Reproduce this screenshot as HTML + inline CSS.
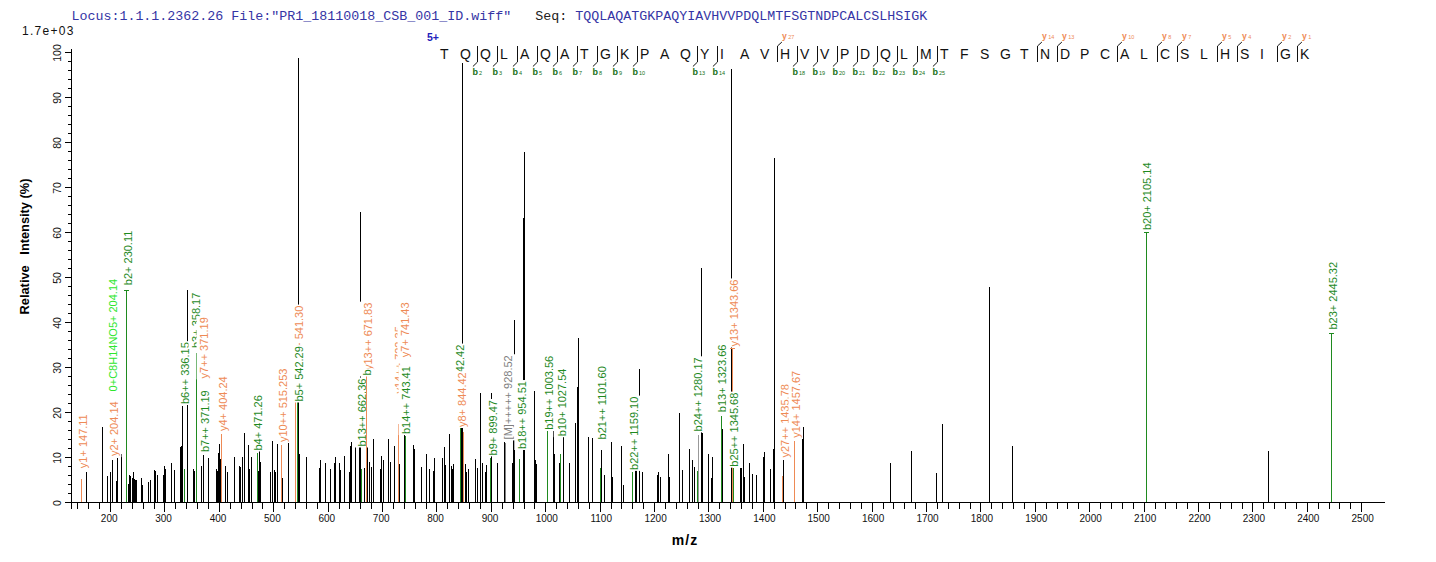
<!DOCTYPE html><html><head><meta charset="utf-8"><style>html,body{margin:0;padding:0;background:#fff;width:1436px;height:562px;overflow:hidden}svg{display:block}text{font-family:"Liberation Sans",sans-serif}</style></head><body>
<svg width="1436" height="562" viewBox="0 0 1436 562">
<text x="71.4" y="19.5" style="font-family:'Liberation Mono',monospace;font-size:13.333px;white-space:pre" fill="#3535a5" xml:space="preserve">Locus:1.1.1.2362.26 File:"PR1_18110018_CSB_001_ID.wiff"   <tspan fill="#222">Seq:</tspan> TQQLAQATGKPAQYIAVHVVPDQLMTFSGTNDPCALCSLHSIGK</text>
<text x="22" y="35" style="font-size:12px;letter-spacing:1.3px" fill="#111">1.7e+03</text>
<path d="M86.5 502V472M102.5 502V427M107.5 502V476M110.5 502V472M112.5 502V460M116.5 502V481M117.5 502V458M121.5 502V454M128.5 502V484M129.5 502V475M130.5 502V476M132.5 502V478M133.5 502V472M134.5 502V479M135.5 502V480M136.5 502V480M141.5 502V478M142.5 502V485M148.5 502V482M150.5 502V480M154.5 502V470M155.5 502V471M157.5 502V475M163.5 502V475M164.5 502V466M165.5 502V469M171.5 502V463M174.5 502V470M180.5 502V447M181.5 502V446M182.5 502V406M187.5 502V290M193.5 502V469M194.5 502V471M201.5 502V466M203.5 502V455M208.5 502V458M216.5 502V469M217.5 502V471M218.5 502V453M219.5 502V444M220.5 502V459M225.5 502V466M227.5 502V472M234.5 502V457M239.5 502V466M240.5 502V467M242.5 502V457M244.5 502V433M248.5 502V445M249.5 502V469M251.5 502V457M258.5 502V471M259.5 502V451M260.5 502V462M270.5 502V472M272.5 502V441M274.5 502V470M275.5 502V472M277.5 502V444M282.5 502V478M288.5 502V443M298.5 502V58M299.5 502V454M306.5 502V457M319.5 502V468M320.5 502V460M325.5 502V463M330.5 502V469M334.5 502V463M335.5 502V457M339.5 502V463M340.5 502V470M344.5 502V456M349.5 502V472M350.5 502V446M351.5 502V442M355.5 502V446M359.5 502V447M360.5 502V212M364.5 502V468M367.5 502V446M369.5 502V462M371.5 502V467M373.5 502V439M380.5 502V469M381.5 502V456M383.5 502V460M388.5 502V439M390.5 502V462M394.5 502V446M399.5 502V464M404.5 502V435M413.5 502V454M413.5 502V445M414.5 502V449M421.5 502V467M426.5 502V454M429.5 502V469M433.5 502V471M434.5 502V458M442.5 502V458M444.5 502V447M445.5 502V465M449.5 502V434M451.5 502V466M452.5 502V469M453.5 502V464M461.5 502V427M462.5 502V63M465.5 502V464M466.5 502V472M468.5 502V469M475.5 502V459M477.5 502V468M480.5 502V393M482.5 502V463M485.5 502V472M486.5 502V465M491.5 502V393M497.5 502V463M504.5 502V442M512.5 502V463M513.5 502V440M514.5 502V320M523.5 502V218M524.5 502V152M534.5 502V391M535.5 502V460M536.5 502V464M553.5 502V431M554.5 502V454M559.5 502V463M563.5 502V437M569.5 502V463M575.5 502V423M577.5 502V387M578.5 502V338M588.5 502V437M592.5 502V438M601.5 502V450M604.5 502V475M611.5 502V442M612.5 502V477M621.5 502V446M623.5 502V485M635.5 502V470M636.5 502V469M639.5 502V369M642.5 502V472M657.5 502V475M658.5 502V472M660.5 502V477M668.5 502V454M669.5 502V477M679.5 502V413M682.5 502V470M689.5 502V449M692.5 502V460M694.5 502V467M701.5 502V268M702.5 502V433M708.5 502V454M711.5 502V478M712.5 502V457M722.5 502V429M731.5 502V69M740.5 502V468M741.5 502V468M743.5 502V444M744.5 502V477M749.5 502V463M752.5 502V474M756.5 502V475M763.5 502V457M764.5 502V452M770.5 502V469M773.5 502V449M774.5 502V158M783.5 502V460M890.5 502V463M911.5 502V451M936.5 502V473M942.5 502V424M989.5 502V287M1012.5 502V446M1268.5 502V451" stroke="#000" stroke-width="1" fill="none" shape-rendering="crispEdges"/>
<path d="M698.5 502V435" stroke="#999" stroke-width="1" fill="none" shape-rendering="crispEdges"/>
<path d="M81.5 502V479" stroke="#ee8a55" stroke-width="1" shape-rendering="crispEdges"/>
<g transform="translate(87.1,468.2) rotate(-90)"><rect x="-1" y="-11.8" width="55.984375" height="15.3" fill="#fff"/><text x="0" y="0" style="font-size:11px;white-space:pre" fill="#ee8a55" xml:space="preserve">y1+ 147.11</text></g>
<g transform="translate(117.9,456.1) rotate(-90)"><rect x="-1" y="-11.8" width="56.796875" height="15.3" fill="#fff"/><text x="0" y="0" style="font-size:11px;white-space:pre" fill="#ee8a55" xml:space="preserve">y2+ 204.14</text></g>
<g transform="translate(117.4,391.4) rotate(-90)"><rect x="-1" y="-11.8" width="114.59375" height="15.3" fill="#fff"/><text x="0" y="0" style="font-size:11px;white-space:pre" fill="#2ee62e" xml:space="preserve">0+C8H14NO5+ 204.14</text></g>
<path d="M126.5 502V290M124.0 290.5h5" stroke="#1f8a1f" stroke-width="1" shape-rendering="crispEdges"/>
<g transform="translate(132.2,285.2) rotate(-90)"><rect x="-1" y="-11.8" width="56.609375" height="15.3" fill="#fff"/><text x="0" y="0" style="font-size:11px;white-space:pre" fill="#1f8a1f" xml:space="preserve">b2+ 230.11</text></g>
<path d="M184.5 502V469" stroke="#1f8a1f" stroke-width="1" shape-rendering="crispEdges"/>
<g transform="translate(189.0,404.0) rotate(-90)"><rect x="-1" y="-11.8" width="63.84375" height="15.3" fill="#fff"/><text x="0" y="0" style="font-size:11px;white-space:pre" fill="#1f8a1f" xml:space="preserve">b6++ 336.15</text></g>
<path d="M196.5 502V353" stroke="#1f8a1f" stroke-width="1" shape-rendering="crispEdges"/>
<g transform="translate(200.4,348.0) rotate(-90)"><rect x="-1" y="-11.8" width="57.421875" height="15.3" fill="#fff"/><text x="0" y="0" style="font-size:11px;white-space:pre" fill="#1f8a1f" xml:space="preserve">b3+ 358.17</text></g>
<g transform="translate(208.4,378.4) rotate(-90)"><rect x="-1" y="-11.8" width="63.21875" height="15.3" fill="#fff"/><text x="0" y="0" style="font-size:11px;white-space:pre" fill="#ee8a55" xml:space="preserve">y7++ 371.19</text></g>
<g transform="translate(209.4,452.1) rotate(-90)"><rect x="-1" y="-11.8" width="63.84375" height="15.3" fill="#fff"/><text x="0" y="0" style="font-size:11px;white-space:pre" fill="#1f8a1f" xml:space="preserve">b7++ 371.19</text></g>
<path d="M221.5 502V434" stroke="#ee8a55" stroke-width="1" shape-rendering="crispEdges"/>
<g transform="translate(227.0,431.0) rotate(-90)"><rect x="-1" y="-11.8" width="56.796875" height="15.3" fill="#fff"/><text x="0" y="0" style="font-size:11px;white-space:pre" fill="#ee8a55" xml:space="preserve">y4+ 404.24</text></g>
<path d="M257.5 502V453" stroke="#1f8a1f" stroke-width="1" shape-rendering="crispEdges"/>
<g transform="translate(262.2,450.5) rotate(-90)"><rect x="-1" y="-11.8" width="57.421875" height="15.3" fill="#fff"/><text x="0" y="0" style="font-size:11px;white-space:pre" fill="#1f8a1f" xml:space="preserve">b4+ 471.26</text></g>
<path d="M281.5 502V445" stroke="#ee8a55" stroke-width="1" shape-rendering="crispEdges"/>
<g transform="translate(286.9,442.0) rotate(-90)"><rect x="-1" y="-11.8" width="75.46875" height="15.3" fill="#fff"/><text x="0" y="0" style="font-size:11px;white-space:pre" fill="#ee8a55" xml:space="preserve">y10++ 515.253</text></g>
<path d="M295.5 502V366" stroke="#ee8a55" stroke-width="1" shape-rendering="crispEdges"/>
<g transform="translate(302.9,366.5) rotate(-90)"><rect x="-1" y="-11.8" width="62.921875" height="15.3" fill="#fff"/><text x="0" y="0" style="font-size:11px;white-space:pre" fill="#ee8a55" xml:space="preserve">y10+ 541.30</text></g>
<path d="M297.5 502V401" stroke="#1f8a1f" stroke-width="1" shape-rendering="crispEdges"/>
<g transform="translate(302.9,401.5) rotate(-90)"><rect x="-1" y="-11.8" width="57.421875" height="15.3" fill="#fff"/><text x="0" y="0" style="font-size:11px;white-space:pre" fill="#1f8a1f" xml:space="preserve">b5+ 542.29</text></g>
<path d="M361.5 502V469" stroke="#1f8a1f" stroke-width="1" shape-rendering="crispEdges"/>
<g transform="translate(366.0,446.5) rotate(-90)"><rect x="-1" y="-11.8" width="69.96875" height="15.3" fill="#fff"/><text x="0" y="0" style="font-size:11px;white-space:pre" fill="#1f8a1f" xml:space="preserve">b13++ 662.36</text></g>
<path d="M366.5 502V376" stroke="#ee8a55" stroke-width="1" shape-rendering="crispEdges"/>
<g transform="translate(371.5,370.0) rotate(-90)"><rect x="-1" y="-11.8" width="69.34375" height="15.3" fill="#fff"/><text x="0" y="0" style="font-size:11px;white-space:pre" fill="#ee8a55" xml:space="preserve">y13++ 671.83</text></g>
<g transform="translate(370.8,375.5) rotate(-90)"><rect x="-1" y="-11.8" width="8.125" height="15.3" fill="#fff"/><text x="0" y="0" style="font-size:11px;white-space:pre" fill="#1f8a1f" xml:space="preserve">b</text></g>
<path d="M398.5 502V424" stroke="#ee8a55" stroke-width="1" shape-rendering="crispEdges"/>
<g transform="translate(403.0,393.5) rotate(-90)"><rect x="-1" y="-11.8" width="69.34375" height="15.3" fill="#fff"/><text x="0" y="0" style="font-size:11px;white-space:pre" fill="#ee8a55" xml:space="preserve">y14++ 722.35</text></g>
<g transform="translate(409.4,357.2) rotate(-90)"><rect x="-1" y="-11.8" width="56.796875" height="15.3" fill="#fff"/><text x="0" y="0" style="font-size:11px;white-space:pre" fill="#ee8a55" xml:space="preserve">y7+ 741.43</text></g>
<path d="M405.5 502V436" stroke="#1f8a1f" stroke-width="1" shape-rendering="crispEdges"/>
<g transform="translate(410.4,434.1) rotate(-90)"><rect x="-1" y="-11.8" width="69.96875" height="15.3" fill="#fff"/><text x="0" y="0" style="font-size:11px;white-space:pre" fill="#1f8a1f" xml:space="preserve">b14++ 743.41</text></g>
<path d="M460.5 502V426" stroke="#1f8a1f" stroke-width="1" shape-rendering="crispEdges"/>
<g transform="translate(464.1,400.0) rotate(-90)"><rect x="-1" y="-11.8" width="57.421875" height="15.3" fill="#fff"/><text x="0" y="0" style="font-size:11px;white-space:pre" fill="#1f8a1f" xml:space="preserve">b8+ 842.42</text></g>
<path d="M463.5 502V432" stroke="#ee8a55" stroke-width="1" shape-rendering="crispEdges"/>
<g transform="translate(466.0,427.0) rotate(-90)"><rect x="-1" y="-11.8" width="56.796875" height="15.3" fill="#fff"/><text x="0" y="0" style="font-size:11px;white-space:pre" fill="#ee8a55" xml:space="preserve">y8+ 844.42</text></g>
<path d="M490.5 502V458" stroke="#1f8a1f" stroke-width="1" shape-rendering="crispEdges"/>
<g transform="translate(496.6,455.4) rotate(-90)"><rect x="-1" y="-11.8" width="57.421875" height="15.3" fill="#fff"/><text x="0" y="0" style="font-size:11px;white-space:pre" fill="#1f8a1f" xml:space="preserve">b9+ 899.47</text></g>
<path d="M505.5 502V443" stroke="#808080" stroke-width="1" shape-rendering="crispEdges"/>
<g transform="translate(512.0,439.4) rotate(-90)"><rect x="-1" y="-11.8" width="86.140625" height="15.3" fill="#fff"/><text x="0" y="0" style="font-size:11px;white-space:pre" fill="#808080" xml:space="preserve">&#91;M]+++++ 928.52</text></g>
<path d="M519.5 502V459" stroke="#1f8a1f" stroke-width="1" shape-rendering="crispEdges"/>
<g transform="translate(526.1,449.0) rotate(-90)"><rect x="-1" y="-11.8" width="69.96875" height="15.3" fill="#fff"/><text x="0" y="0" style="font-size:11px;white-space:pre" fill="#1f8a1f" xml:space="preserve">b18++ 954.51</text></g>
<path d="M547.5 502V431" stroke="#1f8a1f" stroke-width="1" shape-rendering="crispEdges"/>
<g transform="translate(552.7,429.8) rotate(-90)"><rect x="-1" y="-11.8" width="76.09375" height="15.3" fill="#fff"/><text x="0" y="0" style="font-size:11px;white-space:pre" fill="#1f8a1f" xml:space="preserve">b19++ 1003.56</text></g>
<path d="M560.5 502V454" stroke="#1f8a1f" stroke-width="1" shape-rendering="crispEdges"/>
<g transform="translate(565.5,436.2) rotate(-90)"><rect x="-1" y="-11.8" width="69.671875" height="15.3" fill="#fff"/><text x="0" y="0" style="font-size:11px;white-space:pre" fill="#1f8a1f" xml:space="preserve">b10+ 1027.54</text></g>
<path d="M600.5 502V468" stroke="#1f8a1f" stroke-width="1" shape-rendering="crispEdges"/>
<g transform="translate(605.6,439.4) rotate(-90)"><rect x="-1" y="-11.8" width="75.28125" height="15.3" fill="#fff"/><text x="0" y="0" style="font-size:11px;white-space:pre" fill="#1f8a1f" xml:space="preserve">b21++ 1101.60</text></g>
<path d="M632.5 502V472" stroke="#1f8a1f" stroke-width="1" shape-rendering="crispEdges"/>
<g transform="translate(637.6,469.9) rotate(-90)"><rect x="-1" y="-11.8" width="75.28125" height="15.3" fill="#fff"/><text x="0" y="0" style="font-size:11px;white-space:pre" fill="#1f8a1f" xml:space="preserve">b22++ 1159.10</text></g>
<path d="M697.5 502V471" stroke="#1f8a1f" stroke-width="1" shape-rendering="crispEdges"/>
<g transform="translate(701.7,431.4) rotate(-90)"><rect x="-1" y="-11.8" width="76.09375" height="15.3" fill="#fff"/><text x="0" y="0" style="font-size:11px;white-space:pre" fill="#1f8a1f" xml:space="preserve">b24++ 1280.17</text></g>
<path d="M721.5 502V416" stroke="#1f8a1f" stroke-width="1" shape-rendering="crispEdges"/>
<g transform="translate(726.4,412.2) rotate(-90)"><rect x="-1" y="-11.8" width="69.671875" height="15.3" fill="#fff"/><text x="0" y="0" style="font-size:11px;white-space:pre" fill="#1f8a1f" xml:space="preserve">b13+ 1323.66</text></g>
<path d="M732.5 502V348M730.0 348.5h5" stroke="#ee8a55" stroke-width="1" shape-rendering="crispEdges"/>
<g transform="translate(738.2,346.5) rotate(-90)"><rect x="-1" y="-11.8" width="69.046875" height="15.3" fill="#fff"/><text x="0" y="0" style="font-size:11px;white-space:pre" fill="#ee8a55" xml:space="preserve">y13+ 1343.66</text></g>
<path d="M733.5 502V468" stroke="#1f8a1f" stroke-width="1" shape-rendering="crispEdges"/>
<g transform="translate(738.2,466.7) rotate(-90)"><rect x="-1" y="-11.8" width="76.09375" height="15.3" fill="#fff"/><text x="0" y="0" style="font-size:11px;white-space:pre" fill="#1f8a1f" xml:space="preserve">b25++ 1345.68</text></g>
<path d="M782.5 502V476" stroke="#ee8a55" stroke-width="1" shape-rendering="crispEdges"/>
<g transform="translate(788.9,457.5) rotate(-90)"><rect x="-1" y="-11.8" width="75.46875" height="15.3" fill="#fff"/><text x="0" y="0" style="font-size:11px;white-space:pre" fill="#ee8a55" xml:space="preserve">y27++ 1435.78</text></g>
<path d="M794.5 502V441" stroke="#ee8a55" stroke-width="1" shape-rendering="crispEdges"/>
<g transform="translate(800.4,437.8) rotate(-90)"><rect x="-1" y="-11.8" width="69.046875" height="15.3" fill="#fff"/><text x="0" y="0" style="font-size:11px;white-space:pre" fill="#ee8a55" xml:space="preserve">y14+ 1457.67</text></g>
<path d="M1146.5 502V232M1144.0 232.5h5" stroke="#1f8a1f" stroke-width="1" shape-rendering="crispEdges"/>
<g transform="translate(1151.2,230.1) rotate(-90)"><rect x="-1" y="-11.8" width="69.671875" height="15.3" fill="#fff"/><text x="0" y="0" style="font-size:11px;white-space:pre" fill="#1f8a1f" xml:space="preserve">b20+ 2105.14</text></g>
<path d="M1331.5 502V333M1329.0 333.5h5" stroke="#1f8a1f" stroke-width="1" shape-rendering="crispEdges"/>
<g transform="translate(1336.6,329.5) rotate(-90)"><rect x="-1" y="-11.8" width="69.671875" height="15.3" fill="#fff"/><text x="0" y="0" style="font-size:11px;white-space:pre" fill="#1f8a1f" xml:space="preserve">b23+ 2445.32</text></g>
<path d="M65 502.5H1385M71.5 49V508.5M65 502.5H71M68 493.5H71M68 484.5H71M68 475.5H71M68 466.5H71M65 457.5H71M68 448.5H71M68 439.5H71M68 430.5H71M68 421.5H71M65 412.5H71M68 403.5H71M68 394.5H71M68 385.5H71M68 376.5H71M65 367.5H71M68 358.5H71M68 349.5H71M68 340.5H71M68 331.5H71M65 322.5H71M68 313.5H71M68 304.5H71M68 295.5H71M68 286.5H71M65 277.5H71M68 268.5H71M68 259.5H71M68 250.5H71M68 241.5H71M65 232.5H71M68 223.5H71M68 214.5H71M68 205.5H71M68 196.5H71M65 187.5H71M68 178.5H71M68 169.5H71M68 160.5H71M68 151.5H71M65 142.5H71M68 133.5H71M68 124.5H71M68 115.5H71M68 106.5H71M65 97.5H71M68 88.5H71M68 79.5H71M68 70.5H71M68 61.5H71M65 52.5H71M77.5 502V508.5M88.5 502V508.5M99.5 502V508.5M110.5 502V511.5M121.5 502V508.5M132.5 502V508.5M143.5 502V508.5M154.5 502V508.5M164.5 502V511.5M175.5 502V508.5M186.5 502V508.5M197.5 502V508.5M208.5 502V508.5M219.5 502V511.5M230.5 502V508.5M241.5 502V508.5M252.5 502V508.5M262.5 502V508.5M273.5 502V511.5M284.5 502V508.5M295.5 502V508.5M306.5 502V508.5M317.5 502V508.5M328.5 502V511.5M339.5 502V508.5M349.5 502V508.5M360.5 502V508.5M371.5 502V508.5M382.5 502V511.5M393.5 502V508.5M404.5 502V508.5M415.5 502V508.5M426.5 502V508.5M436.5 502V511.5M447.5 502V508.5M458.5 502V508.5M469.5 502V508.5M480.5 502V508.5M491.5 502V511.5M502.5 502V508.5M513.5 502V508.5M524.5 502V508.5M534.5 502V508.5M545.5 502V511.5M556.5 502V508.5M567.5 502V508.5M578.5 502V508.5M589.5 502V508.5M600.5 502V511.5M611.5 502V508.5M621.5 502V508.5M632.5 502V508.5M643.5 502V508.5M654.5 502V511.5M665.5 502V508.5M676.5 502V508.5M687.5 502V508.5M698.5 502V508.5M708.5 502V511.5M719.5 502V508.5M730.5 502V508.5M741.5 502V508.5M752.5 502V508.5M763.5 502V511.5M774.5 502V508.5M785.5 502V508.5M795.5 502V508.5M806.5 502V508.5M817.5 502V511.5M828.5 502V508.5M839.5 502V508.5M850.5 502V508.5M861.5 502V508.5M872.5 502V511.5M883.5 502V508.5M893.5 502V508.5M904.5 502V508.5M915.5 502V508.5M926.5 502V511.5M937.5 502V508.5M948.5 502V508.5M959.5 502V508.5M970.5 502V508.5M980.5 502V511.5M991.5 502V508.5M1002.5 502V508.5M1013.5 502V508.5M1024.5 502V508.5M1035.5 502V511.5M1046.5 502V508.5M1057.5 502V508.5M1067.5 502V508.5M1078.5 502V508.5M1089.5 502V511.5M1100.5 502V508.5M1111.5 502V508.5M1122.5 502V508.5M1133.5 502V508.5M1144.5 502V511.5M1155.5 502V508.5M1165.5 502V508.5M1176.5 502V508.5M1187.5 502V508.5M1198.5 502V511.5M1209.5 502V508.5M1220.5 502V508.5M1231.5 502V508.5M1242.5 502V508.5M1252.5 502V511.5M1263.5 502V508.5M1274.5 502V508.5M1285.5 502V508.5M1296.5 502V508.5M1307.5 502V511.5M1318.5 502V508.5M1329.5 502V508.5M1339.5 502V508.5M1350.5 502V508.5M1361.5 502V511.5" stroke="#000" stroke-width="1" fill="none" shape-rendering="crispEdges"/>
<text transform="translate(60.8,503.0) rotate(-90)" text-anchor="middle" style="font-size:10.5px" fill="#111">0</text>
<text transform="translate(60.8,458.0) rotate(-90)" text-anchor="middle" style="font-size:10.5px" fill="#111">10</text>
<text transform="translate(60.8,413.0) rotate(-90)" text-anchor="middle" style="font-size:10.5px" fill="#111">20</text>
<text transform="translate(60.8,368.0) rotate(-90)" text-anchor="middle" style="font-size:10.5px" fill="#111">30</text>
<text transform="translate(60.8,323.0) rotate(-90)" text-anchor="middle" style="font-size:10.5px" fill="#111">40</text>
<text transform="translate(60.8,278.0) rotate(-90)" text-anchor="middle" style="font-size:10.5px" fill="#111">50</text>
<text transform="translate(60.8,233.0) rotate(-90)" text-anchor="middle" style="font-size:10.5px" fill="#111">60</text>
<text transform="translate(60.8,188.0) rotate(-90)" text-anchor="middle" style="font-size:10.5px" fill="#111">70</text>
<text transform="translate(60.8,143.0) rotate(-90)" text-anchor="middle" style="font-size:10.5px" fill="#111">80</text>
<text transform="translate(60.8,98.0) rotate(-90)" text-anchor="middle" style="font-size:10.5px" fill="#111">90</text>
<text transform="translate(60.8,53.0) rotate(-90)" text-anchor="middle" style="font-size:10.5px" fill="#111">100</text>
<text x="109.2" y="521.7" text-anchor="middle" style="font-size:10px" fill="#111">200</text>
<text x="163.6" y="521.7" text-anchor="middle" style="font-size:10px" fill="#111">300</text>
<text x="218.0" y="521.7" text-anchor="middle" style="font-size:10px" fill="#111">400</text>
<text x="272.4" y="521.7" text-anchor="middle" style="font-size:10px" fill="#111">500</text>
<text x="326.8" y="521.7" text-anchor="middle" style="font-size:10px" fill="#111">600</text>
<text x="381.2" y="521.7" text-anchor="middle" style="font-size:10px" fill="#111">700</text>
<text x="435.6" y="521.7" text-anchor="middle" style="font-size:10px" fill="#111">800</text>
<text x="490.0" y="521.7" text-anchor="middle" style="font-size:10px" fill="#111">900</text>
<text x="546.8" y="521.7" text-anchor="middle" style="font-size:10px" fill="#111">1000</text>
<text x="601.2" y="521.7" text-anchor="middle" style="font-size:10px" fill="#111">1100</text>
<text x="655.6" y="521.7" text-anchor="middle" style="font-size:10px" fill="#111">1200</text>
<text x="710.0" y="521.7" text-anchor="middle" style="font-size:10px" fill="#111">1300</text>
<text x="764.4" y="521.7" text-anchor="middle" style="font-size:10px" fill="#111">1400</text>
<text x="818.7" y="521.7" text-anchor="middle" style="font-size:10px" fill="#111">1500</text>
<text x="873.1" y="521.7" text-anchor="middle" style="font-size:10px" fill="#111">1600</text>
<text x="927.5" y="521.7" text-anchor="middle" style="font-size:10px" fill="#111">1700</text>
<text x="981.9" y="521.7" text-anchor="middle" style="font-size:10px" fill="#111">1800</text>
<text x="1036.3" y="521.7" text-anchor="middle" style="font-size:10px" fill="#111">1900</text>
<text x="1090.7" y="521.7" text-anchor="middle" style="font-size:10px" fill="#111">2000</text>
<text x="1145.1" y="521.7" text-anchor="middle" style="font-size:10px" fill="#111">2100</text>
<text x="1199.5" y="521.7" text-anchor="middle" style="font-size:10px" fill="#111">2200</text>
<text x="1253.9" y="521.7" text-anchor="middle" style="font-size:10px" fill="#111">2300</text>
<text x="1308.3" y="521.7" text-anchor="middle" style="font-size:10px" fill="#111">2400</text>
<text x="1362.7" y="521.7" text-anchor="middle" style="font-size:10px" fill="#111">2500</text>
<text x="685" y="545" text-anchor="middle" style="font-size:14px;font-weight:bold;letter-spacing:1px" fill="#000">m/z</text>
<text transform="translate(29.3,246.5) rotate(-90)" text-anchor="middle" style="font-size:12.8px;font-weight:bold;white-space:pre" fill="#000" xml:space="preserve">Relative   Intensity (%)</text>
<text x="427" y="40.8" style="font-size:10.5px;font-weight:bold" fill="#2222bb">5+</text>
<text x="440.1" y="59" style="font-size:14px" fill="#111">T</text>
<text x="460.1" y="59" style="font-size:14px" fill="#111">Q</text>
<text x="480.1" y="59" style="font-size:14px" fill="#111">Q</text>
<text x="500.1" y="59" style="font-size:14px" fill="#111">L</text>
<text x="520.1" y="59" style="font-size:14px" fill="#111">A</text>
<text x="540.1" y="59" style="font-size:14px" fill="#111">Q</text>
<text x="560.1" y="59" style="font-size:14px" fill="#111">A</text>
<text x="580.1" y="59" style="font-size:14px" fill="#111">T</text>
<text x="600.1" y="59" style="font-size:14px" fill="#111">G</text>
<text x="620.1" y="59" style="font-size:14px" fill="#111">K</text>
<text x="640.1" y="59" style="font-size:14px" fill="#111">P</text>
<text x="660.1" y="59" style="font-size:14px" fill="#111">A</text>
<text x="680.1" y="59" style="font-size:14px" fill="#111">Q</text>
<text x="700.1" y="59" style="font-size:14px" fill="#111">Y</text>
<text x="720.1" y="59" style="font-size:14px" fill="#111">I</text>
<text x="740.1" y="59" style="font-size:14px" fill="#111">A</text>
<text x="760.1" y="59" style="font-size:14px" fill="#111">V</text>
<text x="780.1" y="59" style="font-size:14px" fill="#111">H</text>
<text x="800.1" y="59" style="font-size:14px" fill="#111">V</text>
<text x="820.1" y="59" style="font-size:14px" fill="#111">V</text>
<text x="840.1" y="59" style="font-size:14px" fill="#111">P</text>
<text x="860.1" y="59" style="font-size:14px" fill="#111">D</text>
<text x="880.1" y="59" style="font-size:14px" fill="#111">Q</text>
<text x="900.1" y="59" style="font-size:14px" fill="#111">L</text>
<text x="920.1" y="59" style="font-size:14px" fill="#111">M</text>
<text x="940.1" y="59" style="font-size:14px" fill="#111">T</text>
<text x="960.1" y="59" style="font-size:14px" fill="#111">F</text>
<text x="980.1" y="59" style="font-size:14px" fill="#111">S</text>
<text x="1000.1" y="59" style="font-size:14px" fill="#111">G</text>
<text x="1020.1" y="59" style="font-size:14px" fill="#111">T</text>
<text x="1040.1" y="59" style="font-size:14px" fill="#111">N</text>
<text x="1060.1" y="59" style="font-size:14px" fill="#111">D</text>
<text x="1080.1" y="59" style="font-size:14px" fill="#111">P</text>
<text x="1100.1" y="59" style="font-size:14px" fill="#111">C</text>
<text x="1120.1" y="59" style="font-size:14px" fill="#111">A</text>
<text x="1140.1" y="59" style="font-size:14px" fill="#111">L</text>
<text x="1160.1" y="59" style="font-size:14px" fill="#111">C</text>
<text x="1180.1" y="59" style="font-size:14px" fill="#111">S</text>
<text x="1200.1" y="59" style="font-size:14px" fill="#111">L</text>
<text x="1220.1" y="59" style="font-size:14px" fill="#111">H</text>
<text x="1240.1" y="59" style="font-size:14px" fill="#111">S</text>
<text x="1260.1" y="59" style="font-size:14px" fill="#111">I</text>
<text x="1280.1" y="59" style="font-size:14px" fill="#111">G</text>
<text x="1300.1" y="59" style="font-size:14px" fill="#111">K</text>
<text x="472.5" y="74.9" style="font-size:9px;font-weight:bold" fill="#157015">b<tspan dx="1" style="font-size:5.5px;font-weight:normal">2</tspan></text>
<text x="492.5" y="74.9" style="font-size:9px;font-weight:bold" fill="#157015">b<tspan dx="1" style="font-size:5.5px;font-weight:normal">3</tspan></text>
<text x="512.5" y="74.9" style="font-size:9px;font-weight:bold" fill="#157015">b<tspan dx="1" style="font-size:5.5px;font-weight:normal">4</tspan></text>
<text x="532.5" y="74.9" style="font-size:9px;font-weight:bold" fill="#157015">b<tspan dx="1" style="font-size:5.5px;font-weight:normal">5</tspan></text>
<text x="552.5" y="74.9" style="font-size:9px;font-weight:bold" fill="#157015">b<tspan dx="1" style="font-size:5.5px;font-weight:normal">6</tspan></text>
<text x="572.5" y="74.9" style="font-size:9px;font-weight:bold" fill="#157015">b<tspan dx="1" style="font-size:5.5px;font-weight:normal">7</tspan></text>
<text x="592.5" y="74.9" style="font-size:9px;font-weight:bold" fill="#157015">b<tspan dx="1" style="font-size:5.5px;font-weight:normal">8</tspan></text>
<text x="612.5" y="74.9" style="font-size:9px;font-weight:bold" fill="#157015">b<tspan dx="1" style="font-size:5.5px;font-weight:normal">9</tspan></text>
<text x="632.5" y="74.9" style="font-size:9px;font-weight:bold" fill="#157015">b<tspan dx="1" style="font-size:5.5px;font-weight:normal">10</tspan></text>
<text x="692.5" y="74.9" style="font-size:9px;font-weight:bold" fill="#157015">b<tspan dx="1" style="font-size:5.5px;font-weight:normal">13</tspan></text>
<text x="712.5" y="74.9" style="font-size:9px;font-weight:bold" fill="#157015">b<tspan dx="1" style="font-size:5.5px;font-weight:normal">14</tspan></text>
<text x="792.5" y="74.9" style="font-size:9px;font-weight:bold" fill="#157015">b<tspan dx="1" style="font-size:5.5px;font-weight:normal">18</tspan></text>
<text x="812.5" y="74.9" style="font-size:9px;font-weight:bold" fill="#157015">b<tspan dx="1" style="font-size:5.5px;font-weight:normal">19</tspan></text>
<text x="832.5" y="74.9" style="font-size:9px;font-weight:bold" fill="#157015">b<tspan dx="1" style="font-size:5.5px;font-weight:normal">20</tspan></text>
<text x="852.5" y="74.9" style="font-size:9px;font-weight:bold" fill="#157015">b<tspan dx="1" style="font-size:5.5px;font-weight:normal">21</tspan></text>
<text x="872.5" y="74.9" style="font-size:9px;font-weight:bold" fill="#157015">b<tspan dx="1" style="font-size:5.5px;font-weight:normal">22</tspan></text>
<text x="892.5" y="74.9" style="font-size:9px;font-weight:bold" fill="#157015">b<tspan dx="1" style="font-size:5.5px;font-weight:normal">23</tspan></text>
<text x="912.5" y="74.9" style="font-size:9px;font-weight:bold" fill="#157015">b<tspan dx="1" style="font-size:5.5px;font-weight:normal">24</tspan></text>
<text x="932.5" y="74.9" style="font-size:9px;font-weight:bold" fill="#157015">b<tspan dx="1" style="font-size:5.5px;font-weight:normal">25</tspan></text>
<text x="782.0" y="38.5" style="font-size:8.6px;font-weight:bold" fill="#ee8a55">y<tspan dx="1.5" style="font-size:5.5px;font-weight:normal">27</tspan></text>
<text x="1042.0" y="38.5" style="font-size:8.6px;font-weight:bold" fill="#ee8a55">y<tspan dx="1.5" style="font-size:5.5px;font-weight:normal">14</tspan></text>
<text x="1062.0" y="38.5" style="font-size:8.6px;font-weight:bold" fill="#ee8a55">y<tspan dx="1.5" style="font-size:5.5px;font-weight:normal">13</tspan></text>
<text x="1122.0" y="38.5" style="font-size:8.6px;font-weight:bold" fill="#ee8a55">y<tspan dx="1.5" style="font-size:5.5px;font-weight:normal">10</tspan></text>
<text x="1162.0" y="38.5" style="font-size:8.6px;font-weight:bold" fill="#ee8a55">y<tspan dx="1.5" style="font-size:5.5px;font-weight:normal">8</tspan></text>
<text x="1182.0" y="38.5" style="font-size:8.6px;font-weight:bold" fill="#ee8a55">y<tspan dx="1.5" style="font-size:5.5px;font-weight:normal">7</tspan></text>
<text x="1222.0" y="38.5" style="font-size:8.6px;font-weight:bold" fill="#ee8a55">y<tspan dx="1.5" style="font-size:5.5px;font-weight:normal">5</tspan></text>
<text x="1242.0" y="38.5" style="font-size:8.6px;font-weight:bold" fill="#ee8a55">y<tspan dx="1.5" style="font-size:5.5px;font-weight:normal">4</tspan></text>
<text x="1282.0" y="38.5" style="font-size:8.6px;font-weight:bold" fill="#ee8a55">y<tspan dx="1.5" style="font-size:5.5px;font-weight:normal">2</tspan></text>
<text x="1302.0" y="38.5" style="font-size:8.6px;font-weight:bold" fill="#ee8a55">y<tspan dx="1.5" style="font-size:5.5px;font-weight:normal">1</tspan></text>
<path d="M477.5 46V62L472.9 66.5M497.5 46V62L492.9 66.5M517.5 46V62L512.9 66.5M537.5 46V62L532.9 66.5M557.5 46V62L552.9 66.5M577.5 46V62L572.9 66.5M597.5 46V62L592.9 66.5M617.5 46V62L612.9 66.5M637.5 46V62L632.9 66.5M697.5 46V62L692.9 66.5M717.5 46V62L712.9 66.5M797.5 46V62L792.9 66.5M817.5 46V62L812.9 66.5M837.5 46V62L832.9 66.5M857.5 46V62L852.9 66.5M877.5 46V62L872.9 66.5M897.5 46V62L892.9 66.5M917.5 46V62L912.9 66.5M937.5 46V62L932.9 66.5M777.5 62V46L781.9 42M1037.5 62V46L1041.9 42M1057.5 62V46L1061.9 42M1117.5 62V46L1121.9 42M1157.5 62V46L1161.9 42M1177.5 62V46L1181.9 42M1217.5 62V46L1221.9 42M1237.5 62V46L1241.9 42M1277.5 62V46L1281.9 42M1297.5 62V46L1301.9 42" stroke="#111" stroke-width="1" fill="none"/>
<path d="M802.5 502V439M803.5 502V427" stroke="#000" shape-rendering="crispEdges"/>
</svg></body></html>
